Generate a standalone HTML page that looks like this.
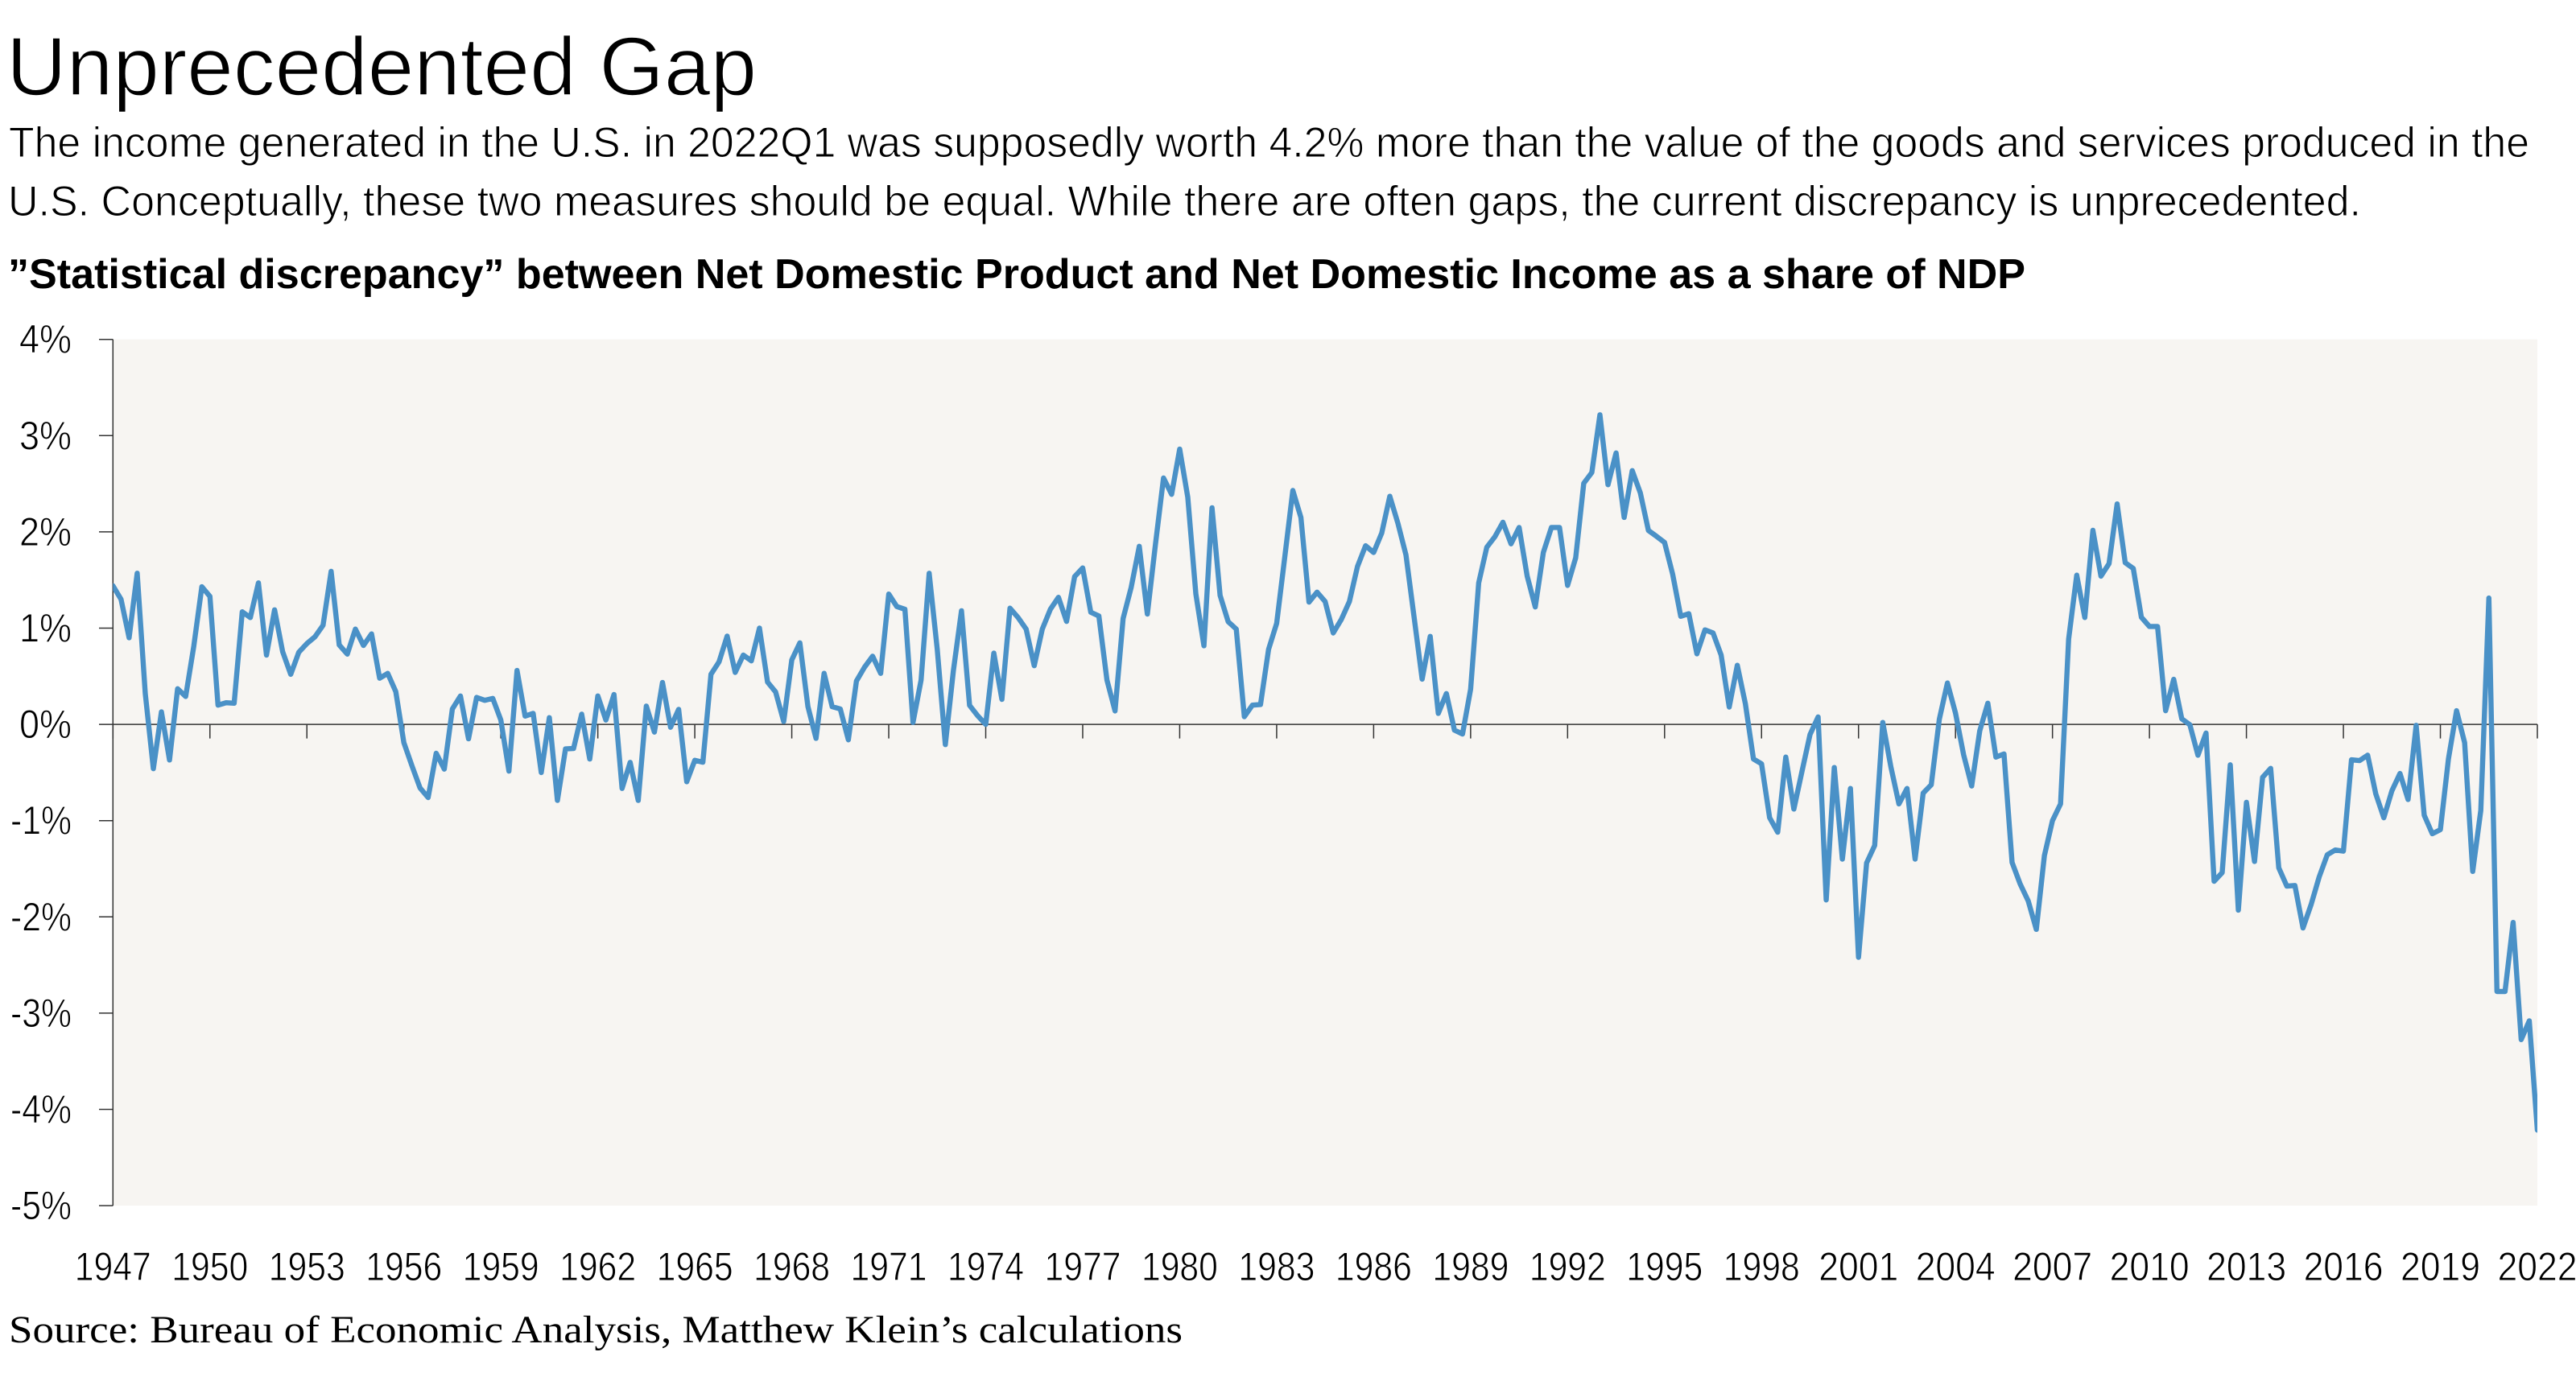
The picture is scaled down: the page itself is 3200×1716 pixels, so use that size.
<!DOCTYPE html>
<html lang="en">
<head>
<meta charset="utf-8">
<title>Unprecedented Gap</title>
<style>
html,body{margin:0;padding:0;background:#fff;}
body{width:3200px;height:1716px;overflow:hidden;}
svg{display:block;}
text{font-family:"Liberation Sans",sans-serif;fill:#000;}
.light{stroke:#fff;}
</style>
</head>
<body>
<svg id="chart" xmlns="http://www.w3.org/2000/svg" width="3200" height="1716" viewBox="0 0 3200 1716">
  <text class="light" x="8" y="118" font-size="103" stroke-width="1.6" textLength="932" lengthAdjust="spacingAndGlyphs">Unprecedented Gap</text>
  <text class="light" x="11" y="195" font-size="53" stroke-width="1" textLength="3131" lengthAdjust="spacingAndGlyphs">The income generated in the U.S. in 2022Q1 was supposedly worth 4.2% more than the value of the goods and services produced in the</text>
  <text class="light" x="10" y="268" font-size="53" stroke-width="1" textLength="2923" lengthAdjust="spacingAndGlyphs">U.S. Conceptually, these two measures should be equal. While there are often gaps, the current discrepancy is unprecedented.</text>
  <text x="10" y="358" font-size="52" font-weight="700" textLength="2506" lengthAdjust="spacingAndGlyphs">”Statistical discrepancy” between Net Domestic Product and Net Domestic Income as a share of NDP</text>
  <rect x="140.3" y="421.7" width="3011.7" height="1076.4" fill="#f7f5f2"></rect>
  <g id="axes"></g>
  <g id="series"></g>
  <text x="11" y="1668" font-size="48" textLength="1458" lengthAdjust="spacingAndGlyphs" style="font-family:'Liberation Serif',serif">Source: Bureau of Economic Analysis, Matthew Klein’s calculations</text>
</svg>
<script>
const yTickValues = [4, 3, 2, 1, 0, -1, -2, -3, -4, -5];
const xTickYears = [1947,1950,1953,1956,1959,1962,1965,1968,1971,1974,1977,1980,1983,1986,1989,1992,1995,1998,2001,2004,2007,2010,2013,2016,2019,2022];
const startYear = 1947;
const discrepancyPct = [
1.44,1.30,0.90,1.57,0.32,-0.46,0.13,-0.37,0.37,0.29,0.81,1.43,1.33,0.20,0.225,0.22,
1.17,1.11,1.47,0.72,1.19,0.755,0.52,0.75,0.84,0.91,1.03,1.59,0.825,0.73,0.99,0.82,
0.94,0.48,0.53,0.34,-0.19,-0.43,-0.66,-0.76,-0.30,-0.465,0.16,0.295,-0.15,0.28,0.25,0.27,
0.045,-0.485,0.56,0.086,0.114,-0.50,0.07,-0.79,-0.255,-0.25,0.106,-0.36,0.295,0.045,0.31,-0.665,
-0.395,-0.79,0.19,-0.08,0.435,-0.03,0.156,-0.596,-0.373,-0.393,0.52,0.65,0.917,0.54,0.72,0.66,
1.0,0.44,0.337,0.03,0.67,0.847,0.184,-0.145,0.53,0.184,0.16,-0.16,0.45,0.594,0.708,0.53,
1.354,1.224,1.196,0.02,0.46,1.57,0.78,-0.21,0.56,1.18,0.198,0.09,0.0,0.74,0.26,1.207,
1.11,0.99,0.61,0.99,1.196,1.32,1.07,1.536,1.625,1.165,1.126,0.46,0.14,1.10,1.424,1.85,
1.146,1.87,2.56,2.39,2.86,2.36,1.355,0.817,2.25,1.34,1.067,0.99,0.08,0.2,0.206,0.78,
1.05,1.736,2.43,2.15,1.27,1.374,1.276,0.95,1.09,1.276,1.64,1.856,1.786,1.987,2.37,2.09,
1.76,1.118,0.47,0.914,0.114,0.32,-0.06,-0.1,0.365,1.47,1.84,1.95,2.10,1.876,2.046,1.54,
1.22,1.786,2.046,2.046,1.444,1.73,2.505,2.617,3.216,2.49,2.82,2.15,2.636,2.405,2.015,1.954,
1.89,1.56,1.123,1.15,0.733,0.982,0.95,0.72,0.18,0.614,0.214,-0.36,-0.41,-0.97,-1.12,-0.34,
-0.88,-0.49,-0.105,0.077,-1.824,-0.448,-1.40,-0.666,-2.42,-1.44,-1.258,0.02,-0.44,-0.826,-0.666,-1.40,
-0.714,-0.627,0.054,0.43,0.118,-0.314,-0.64,-0.067,0.22,-0.34,-0.307,-1.434,-1.658,-1.834,-2.13,-1.363,
-1.0,-0.826,0.886,1.55,1.11,2.016,1.54,1.67,2.29,1.68,1.62,1.113,1.017,1.017,0.142,0.468,
0.058,-0.004,-0.32,-0.09,-1.63,-1.54,-0.42,-1.93,-0.81,-1.424,-0.55,-0.457,-1.49,-1.68,-1.674,-2.115,
-1.873,-1.585,-1.355,-1.305,-1.317,-0.368,-0.376,-0.32,-0.72,-0.97,-0.69,-0.51,-0.78,-0.01,-0.944,-1.136,
-1.094,-0.357,0.142,-0.19,-1.528,-0.894,1.313,-2.775,-2.775,-2.058,-3.275,-3.08,-4.215
];

const SVG_NS = 'http://www.w3.org/2000/svg';
const plotLeft = 140.3, plotRight = 3152, plotTop = 421.7, plotBottom = 1498.1;
const axisInk = '#333333';
const lastIndex = (xTickYears[xTickYears.length - 1] - startYear) * 4;

function xScale(i) { return plotLeft + (plotRight - plotLeft) * i / lastIndex; }
function yScale(v) { return plotTop + (4 - v) * (plotBottom - plotTop) / 9; }
function node(tag, parent) {
  const el = document.createElementNS(SVG_NS, tag);
  parent.appendChild(el);
  return el;
}
function stroke(el, x1, y1, x2, y2) {
  el.setAttribute('x1', x1);
  el.setAttribute('y1', y1);
  el.setAttribute('x2', x2);
  el.setAttribute('y2', y2);
  el.setAttribute('stroke', axisInk);
  el.setAttribute('stroke-width', '1.5');
}

const axes = document.getElementById('axes');
const series = document.getElementById('series');

const yAxisLine = node('line', axes);


stroke(yAxisLine, plotLeft, plotTop, plotLeft, plotBottom);

const zeroLine = node('line', axes);


stroke(zeroLine, plotLeft, yScale(0), plotRight, yScale(0));

yTickValues.forEach(function (v) {
  const tick = node('line', axes);
  
  
  stroke(tick, 123, yScale(v), plotLeft, yScale(v));
  const label = node('text', axes);
  
  
  label.setAttribute('class', 'light');
  label.setAttribute('stroke-width', '0.9');
  label.setAttribute('x', v < 0 ? 13 : 24);
  label.setAttribute('y', yScale(v) + 17);
  label.setAttribute('font-size', '50');
  label.setAttribute('textLength', v < 0 ? 76 : 65);
  label.setAttribute('lengthAdjust', 'spacingAndGlyphs');
  label.textContent = v + '%';
});

xTickYears.forEach(function (year) {
  const i = (year - startYear) * 4;
  const x = xScale(i);
  const tick = node('line', axes);
  
  
  stroke(tick, x, yScale(0), x, yScale(0) + 17.5);
  const width = year < 2000 ? 95 : 99;
  const label = node('text', axes);
  
  
  label.setAttribute('class', 'light');
  label.setAttribute('stroke-width', '0.9');
  label.setAttribute('x', x - width / 2);
  label.setAttribute('y', 1591);
  label.setAttribute('font-size', '50');
  label.setAttribute('textLength', width);
  label.setAttribute('lengthAdjust', 'spacingAndGlyphs');
  label.textContent = String(year);
});

const defs = node('defs', series);
const clip = node('clipPath', defs);
clip.setAttribute('id', 'plot-clip');
const clipRect = node('rect', clip);
clipRect.setAttribute('x', plotLeft);
clipRect.setAttribute('y', plotTop);
clipRect.setAttribute('width', plotRight - plotLeft);
clipRect.setAttribute('height', plotBottom - plotTop);

const line = node('path', series);


line.setAttribute('d', discrepancyPct.map(function (v, i) {
  return (i ? 'L' : 'M') + xScale(i).toFixed(2) + ' ' + yScale(v).toFixed(2);
}).join(''));
line.setAttribute('fill', 'none');
line.setAttribute('stroke', '#4a91c7');
line.setAttribute('stroke-width', '6.4');
line.setAttribute('stroke-linejoin', 'round');
line.setAttribute('stroke-linecap', 'round');
line.setAttribute('clip-path', 'url(#plot-clip)');
</script>
</body>
</html>
